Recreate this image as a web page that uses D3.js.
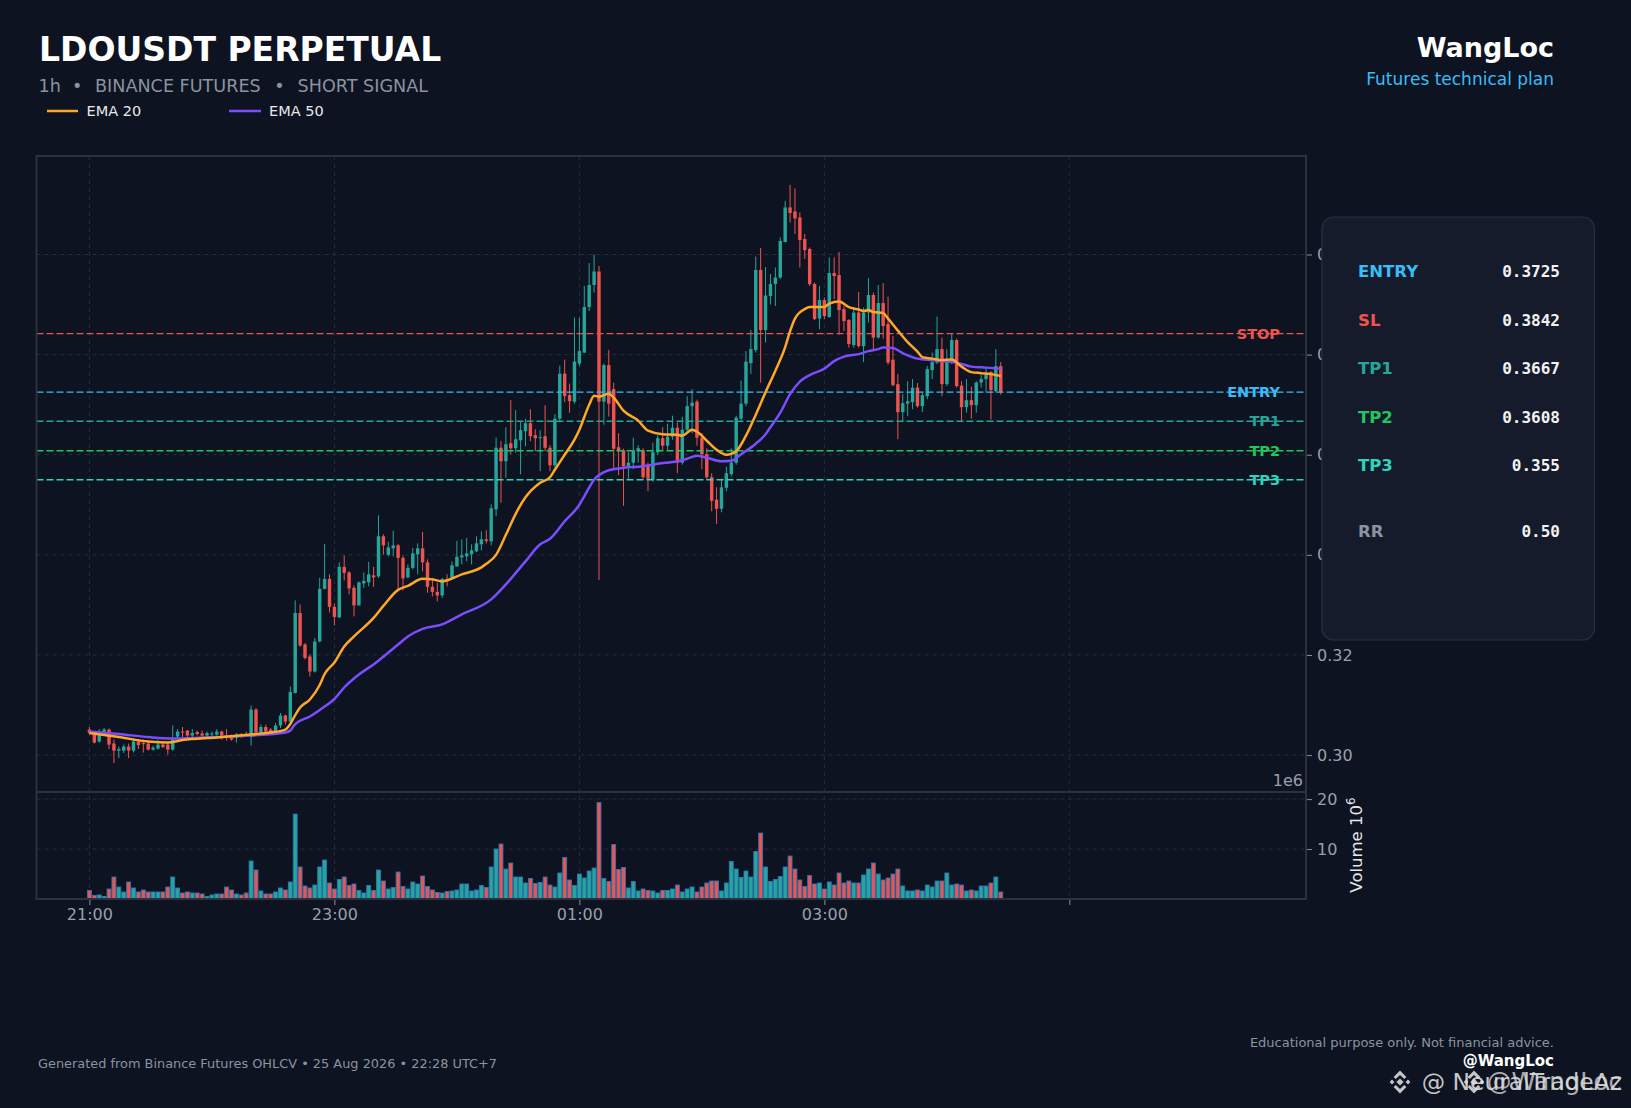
<!DOCTYPE html>
<html>
<head>
<meta charset="utf-8">
<title>LDOUSDT PERPETUAL</title>
<script src="https://cdn.jsdelivr.net/npm/d3@7"></script>
<style>
	html, body { margin: 0; padding: 0; background: #0d1321; }
	svg { display: block; }
</style>
</head>
<body>
<svg id="chart"></svg>
<script>
// candles, 1h
var opens = [
	0.3051,0.3041,0.3027,0.3047,0.3051,0.3023,0.3009,0.3009,0.3017,0.3009,
	0.3027,0.3024,0.3023,0.3011,0.3013,0.3021,0.3021,0.3011,0.3037,0.3047,
	0.3049,0.3039,0.3046,0.3043,0.3039,0.3041,0.3041,0.3047,0.3039,0.3037,
	0.3034,0.3042,0.3041,0.3036,0.3091,0.3045,0.3056,0.3051,0.3047,0.3059,
	0.3079,0.3067,0.3124,0.3284,0.3221,0.3197,0.3167,0.3227,0.3332,0.3352,
	0.3296,0.3275,0.3376,0.3365,0.3334,0.3299,0.3343,0.3345,0.3359,0.3357,
	0.3437,0.3400,0.3413,0.3419,0.3394,0.3355,0.3374,0.3401,0.3413,0.3385,
	0.3336,0.3326,0.3319,0.3352,0.3352,0.3377,0.3395,0.3397,0.3401,0.3407,
	0.3421,0.3431,0.3427,0.3491,0.3614,0.3587,0.3623,0.3613,0.3629,0.3647,
	0.3663,0.3639,0.3633,0.3637,0.3614,0.3579,0.3672,0.3762,0.3719,0.3706,
	0.3782,0.3804,0.3895,0.3939,0.3966,0.3706,0.3779,0.3731,0.3615,0.3609,
	0.3576,0.3584,0.3609,0.3609,0.3580,0.3550,0.3605,0.3633,0.3618,0.3636,
	0.3654,0.3584,0.3650,0.3697,0.3706,0.3634,0.3601,0.3555,0.3510,0.3492,
	0.3534,0.3561,0.3584,0.3672,0.3702,0.3783,0.3809,0.3969,0.3849,0.3917,
	0.3941,0.3954,0.4025,0.4094,0.4086,0.4074,0.4031,0.4011,0.3941,0.3872,
	0.3909,0.3875,0.3963,0.3959,0.3891,0.3869,0.3819,0.3884,0.3817,0.3884,
	0.3919,0.3834,0.3903,0.3861,0.3790,0.3741,0.3685,0.3702,0.3705,0.3734,
	0.3697,0.3717,0.3769,0.3784,0.3811,0.3741,0.3785,0.3829,0.3738,0.3695,
	0.3709,0.3699,0.3744,0.3751,0.3765,0.3727,0.3777
];
var highs = [
	0.3056,0.3044,0.3052,0.3054,0.3053,0.3031,0.3017,0.3021,0.3023,0.3034,
	0.3032,0.3031,0.3025,0.3019,0.3031,0.3024,0.3024,0.3059,0.3052,0.3056,
	0.3050,0.3052,0.3049,0.3049,0.3047,0.3047,0.3052,0.3049,0.3052,0.3041,
	0.3044,0.3044,0.3047,0.3099,0.3094,0.3061,0.3061,0.3054,0.3064,0.3084,
	0.3081,0.3137,0.3309,0.3301,0.3224,0.3201,0.3234,0.3354,0.3422,0.3361,
	0.3303,0.3385,0.3399,0.3367,0.3339,0.3347,0.3365,0.3386,0.3376,0.3479,
	0.3441,0.3426,0.3448,0.3422,0.3399,0.3381,0.3414,0.3423,0.3446,0.3391,
	0.3354,0.3344,0.3354,0.3361,0.3387,0.3428,0.3431,0.3434,0.3421,0.3437,
	0.3447,0.3449,0.3501,0.3634,0.3627,0.3655,0.3709,0.3689,0.3665,0.3672,
	0.3691,0.3651,0.3649,0.3699,0.3619,0.3681,0.3778,0.3790,0.3742,0.3874,
	0.3874,0.3937,0.3983,0.4000,0.3977,0.3782,0.3809,0.3744,0.3643,0.3612,
	0.3605,0.3634,0.3619,0.3613,0.3584,0.3624,0.3639,0.3655,0.3662,0.3678,
	0.3664,0.3676,0.3717,0.3731,0.3710,0.3643,0.3613,0.3563,0.3535,0.3552,
	0.3576,0.3613,0.3678,0.3748,0.3807,0.3849,0.3996,0.4013,0.3975,0.3961,
	0.3974,0.4034,0.4107,0.4139,0.4132,0.4084,0.4041,0.4014,0.3944,0.3937,
	0.3914,0.3994,0.3994,0.4005,0.3897,0.3871,0.3894,0.3925,0.3894,0.3953,
	0.3924,0.3939,0.3943,0.3916,0.3837,0.3761,0.3721,0.3747,0.3751,0.3743,
	0.3724,0.3777,0.3804,0.3876,0.3834,0.3811,0.3843,0.3832,0.3747,0.3751,
	0.3736,0.3747,0.3761,0.3774,0.3767,0.3811,0.3785
];
var lows = [
	0.3041,0.3023,0.3025,0.3044,0.3012,0.2984,0.2994,0.3004,0.2994,0.3005,
	0.3012,0.3005,0.3009,0.3009,0.3011,0.3014,0.3001,0.3009,0.3031,0.3036,
	0.3036,0.3036,0.3039,0.3036,0.3036,0.3037,0.3039,0.3031,0.3029,0.3029,
	0.3025,0.3034,0.3037,0.3019,0.3044,0.3044,0.3044,0.3041,0.3044,0.3054,
	0.3061,0.3063,0.3123,0.3216,0.3191,0.3157,0.3165,0.3225,0.3331,0.3285,
	0.3259,0.3274,0.3349,0.3321,0.3277,0.3299,0.3334,0.3337,0.3336,0.3354,
	0.3401,0.3397,0.3397,0.3332,0.3329,0.3353,0.3371,0.3361,0.3367,0.3324,
	0.3317,0.3307,0.3314,0.3337,0.3351,0.3376,0.3381,0.3387,0.3381,0.3405,
	0.3409,0.3423,0.3419,0.3477,0.3504,0.3554,0.3601,0.3604,0.3561,0.3617,
	0.3627,0.3607,0.3567,0.3607,0.3567,0.3574,0.3665,0.3705,0.3684,0.3702,
	0.3777,0.3803,0.3887,0.3924,0.3350,0.3660,0.3676,0.3571,0.3559,0.3498,
	0.3552,0.3571,0.3584,0.3550,0.3527,0.3546,0.3599,0.3609,0.3609,0.3630,
	0.3563,0.3580,0.3643,0.3643,0.3618,0.3571,0.3550,0.3487,0.3462,0.3485,
	0.3527,0.3557,0.3580,0.3668,0.3697,0.3761,0.3804,0.3744,0.3824,0.3900,
	0.3897,0.3951,0.4024,0.4064,0.4041,0.3974,0.3991,0.3937,0.3869,0.3851,
	0.3871,0.3874,0.3911,0.3840,0.3847,0.3814,0.3814,0.3814,0.3785,0.3864,
	0.3811,0.3832,0.3832,0.3780,0.3737,0.3631,0.3667,0.3677,0.3691,0.3694,
	0.3685,0.3711,0.3751,0.3781,0.3717,0.3737,0.3781,0.3734,0.3665,0.3684,
	0.3672,0.3684,0.3734,0.3724,0.3670,0.3724,0.3720
];
var closes = [
	0.3044,0.3025,0.3041,0.3051,0.3021,0.3009,0.3012,0.3017,0.3009,0.3027,
	0.3020,0.3023,0.3011,0.3015,0.3021,0.3016,0.3011,0.3031,0.3047,0.3045,
	0.3039,0.3044,0.3042,0.3039,0.3044,0.3043,0.3047,0.3039,0.3037,0.3031,
	0.3041,0.3036,0.3039,0.3091,0.3045,0.3056,0.3047,0.3044,0.3059,0.3079,
	0.3067,0.3126,0.3284,0.3219,0.3194,0.3167,0.3227,0.3332,0.3352,0.3296,
	0.3276,0.3376,0.3364,0.3333,0.3299,0.3345,0.3348,0.3361,0.3355,0.3437,
	0.3419,0.3415,0.3419,0.3394,0.3353,0.3374,0.3403,0.3413,0.3385,0.3336,
	0.3326,0.3319,0.3352,0.3349,0.3379,0.3396,0.3399,0.3403,0.3409,0.3423,
	0.3431,0.3428,0.3493,0.3614,0.3587,0.3621,0.3613,0.3631,0.3649,0.3663,
	0.3637,0.3633,0.3635,0.3614,0.3579,0.3672,0.3762,0.3717,0.3707,0.3786,
	0.3807,0.3895,0.3939,0.3966,0.3706,0.3779,0.3702,0.3612,0.3607,0.3577,
	0.3584,0.3609,0.3613,0.3555,0.3552,0.3605,0.3633,0.3618,0.3636,0.3654,
	0.3584,0.3650,0.3697,0.3704,0.3634,0.3601,0.3555,0.3508,0.3492,0.3535,
	0.3563,0.3584,0.3674,0.3702,0.3786,0.3811,0.3969,0.3849,0.3918,0.3941,
	0.3954,0.4027,0.4094,0.4083,0.4072,0.4029,0.4009,0.3941,0.3871,0.3909,
	0.3877,0.3963,0.3957,0.3889,0.3867,0.3821,0.3884,0.3817,0.3884,0.3919,
	0.3834,0.3903,0.3857,0.3784,0.3739,0.3685,0.3703,0.3707,0.3734,0.3697,
	0.3719,0.3771,0.3785,0.3811,0.3741,0.3785,0.3829,0.3737,0.3695,0.3709,
	0.3699,0.3744,0.3751,0.3761,0.3729,0.3777,0.3725
];
// volume in millions
var volumes = [
	1.7,0.7,0.8,0.5,2.0,4.4,2.4,1.4,3.4,2.2,
	1.4,1.8,1.4,1.4,1.4,1.4,2.4,4.4,2.2,1.2,
	1.4,1.2,1.2,1.0,0.5,0.8,1.0,1.0,2.4,1.8,
	1.0,0.8,1.2,7.6,5.8,1.6,1.0,1.0,1.4,2.2,
	1.8,3.4,17.0,6.4,2.6,2.2,2.8,6.4,7.8,3.2,
	2.0,3.9,4.4,2.7,3.0,1.7,1.2,2.7,1.7,5.8,
	3.6,2.0,2.3,5.4,2.5,2.0,3.4,3.0,4.6,2.5,
	1.8,1.3,1.2,1.5,1.6,1.8,3.0,3.0,1.6,1.8,
	2.7,2.3,6.4,10.0,11.0,6.0,7.2,4.4,4.4,3.2,
	4.1,3.1,3.3,4.4,2.8,2.4,5.2,8.3,3.8,2.7,
	5.0,4.2,5.6,6.2,19.3,4.1,3.5,10.9,5.9,6.3,
	2.2,3.5,1.6,2.0,1.7,1.6,1.2,1.7,1.7,2.0,
	2.8,1.4,2.0,2.4,1.4,2.4,3.2,3.6,3.6,1.6,
	3.2,7.5,6.0,4.3,5.6,4.4,9.5,13.2,6.4,3.5,
	3.9,4.5,6.4,8.6,6.0,3.8,2.5,4.7,3.0,3.2,
	2.0,3.4,2.8,5.2,3.2,3.6,3.2,3.2,4.8,6.0,
	7.2,5.0,3.8,4.2,5.0,6.0,2.6,1.6,1.6,1.8,
	1.6,2.8,2.4,3.6,3.6,5.2,2.8,3.0,2.8,1.6,
	1.8,1.6,2.6,2.6,3.2,4.4,1.4
];

// EMA lines, read at these candle indexes
var ema20Index = [0,6,12,16,19,26,33,37,40,41,42,43,45,47,48,50,52,54,58,60,63,65,68,70,72,76,80,81,83,85,87,89,92,94,95,97,99,100,102,103,104,106,107,109,112,114,117,120,121,123,124,126,128,130,132,134,136,138,140,142,143,144,146,147,150,151,153,155,157,158,159,160,162,163,165,167,169,170,172,174,176,178,180,182,184,186];
var ema20 = [0.3044,0.3036,0.3027,0.3025,0.3030,0.3035,0.3041,0.3045,0.3051,0.3062,0.3080,0.3095,0.3111,0.3140,0.3162,0.3185,0.3217,0.3237,0.3274,0.3298,0.3330,0.3338,0.3352,0.3351,0.3347,0.3361,0.3375,0.3382,0.3400,0.3440,0.3482,0.3515,0.3544,0.3555,0.3570,0.3600,0.3630,0.3650,0.3700,0.3718,0.3716,0.3722,0.3714,0.3688,0.3668,0.3648,0.3641,0.3640,0.3638,0.3650,0.3646,0.3628,0.3610,0.3600,0.3607,0.3638,0.3680,0.3725,0.3768,0.3815,0.3847,0.3872,0.3891,0.3895,0.3895,0.3902,0.3906,0.3895,0.3890,0.3887,0.3889,0.3885,0.3883,0.3872,0.3848,0.3825,0.3806,0.3795,0.3792,0.3789,0.3790,0.3776,0.3765,0.3763,0.3761,0.3757];
var ema50Index = [0,6,12,17,26,33,40,41,42,45,48,50,52,55,58,63,65,68,72,76,82,85,89,92,94,97,100,101,103,106,109,113,116,120,122,124,126,129,131,133,136,138,139,141,143,145,147,150,152,154,157,159,161,162,164,166,169,172,174,177,180,183,186];
var ema50 = [0.3047,0.3042,0.3036,0.3033,0.3036,0.3039,0.3045,0.3049,0.3062,0.3077,0.3097,0.3112,0.3135,0.3161,0.3181,0.3221,0.3237,0.3252,0.3261,0.3281,0.3311,0.3341,0.3387,0.3421,0.3432,0.3467,0.3500,0.3517,0.3550,0.3569,0.3574,0.3577,0.3582,0.3587,0.3592,0.3598,0.3594,0.3587,0.3588,0.3601,0.3622,0.3641,0.3655,0.3684,0.3721,0.3746,0.3759,0.3772,0.3787,0.3796,0.3801,0.3807,0.3811,0.3814,0.3813,0.3803,0.3792,0.3789,0.3787,0.3784,0.3776,0.3774,0.3772];

// axes
var tickIndex = [0, 50, 100, 150, 200];
var tickLabels = ['21:00', '23:00', '01:00', '03:00', ''];
var priceTicks = [0.30, 0.32, 0.34, 0.36, 0.38, 0.40];
var volumeTicks = [10, 20];

// trade plan
var levelNames = ['STOP', 'ENTRY', 'TP1', 'TP2', 'TP3'];
var levelValues = [0.3842, 0.3725, 0.3667, 0.3608, 0.355];
var planLabels = ['ENTRY', 'SL', 'TP1', 'TP2', 'TP3', 'RR'];
var planValues = ['0.3725', '0.3842', '0.3667', '0.3608', '0.355', '0.50'];

(function() {
	var width = 1631,
		height = 1108,
		left = 36.5,
		right = 1306,
		priceTop = 156,
		priceBottom = 792,
		volBottom = 899,
		font = "'DejaVu Sans', sans-serif",
		mono = "'DejaVu Sans Mono', monospace",
		upColor = '#26a69a',
		downColor = '#ef5350',
		gridColor = '#262d3b',
		tickColor = '#9aa0aa';

	var levelColors = ['#ef5350', '#38bdf8', '#26a69a', '#22c55e', '#2dd4bf'];
	var planColors = ['#38bdf8', '#ef5350', '#26a69a', '#22c55e', '#2dd4bf', '#8b93a1'];

	var candles = opens.map(function(o, i) {
		return {i: i, o: o, h: highs[i], l: lows[i], c: closes[i], v: volumes[i], up: closes[i] >= o};
	});

	var svg = d3.select('#chart')
		.attr('width', width)
		.attr('height', height)
		.attr('viewBox', '0 0 ' + width + ' ' + height);

	svg.append('rect')
		.attr('width', width)
		.attr('height', height)
		.attr('fill', '#0d1321');

	var x = d3.scaleLinear()
		.domain([-10.8, 248.3])
		.range([left, right]);
	var step = x(1) - x(0);

	var lo = d3.min(lows),
		hi = d3.max(highs),
		pad = (hi - lo)*0.05;

	var y = d3.scaleLinear()
		.domain([lo - pad, hi + pad])
		.range([priceBottom, priceTop]);

	var yv = d3.scaleLinear()
		.domain([0, d3.max(volumes)*1.11])
		.range([volBottom, priceBottom]);

	// grid
	var grid = svg.append('g')
		.attr('stroke', gridColor)
		.attr('stroke-width', 1)
		.attr('stroke-dasharray', '4,4');

	grid.selectAll('.hgrid')
		.data(priceTicks)
		.enter()
		.append('line')
		.attr('x1', left)
		.attr('x2', right)
		.attr('y1', function(d) { return y(d); })
		.attr('y2', function(d) { return y(d); });

	grid.selectAll('.vgrid-v')
		.data(volumeTicks)
		.enter()
		.append('line')
		.attr('x1', left)
		.attr('x2', right)
		.attr('y1', function(d) { return yv(d); })
		.attr('y2', function(d) { return yv(d); });

	grid.selectAll('.xgrid')
		.data(tickIndex)
		.enter()
		.append('line')
		.attr('x1', function(d) { return x(d); })
		.attr('x2', function(d) { return x(d); })
		.attr('y1', priceTop)
		.attr('y2', volBottom);

	// volume bars
	var barWidth = step*0.8;
	svg.append('g')
		.selectAll('rect')
		.data(candles)
		.enter()
		.append('rect')
		.attr('x', function(d) { return x(d.i) - barWidth/2; })
		.attr('y', function(d) { return yv(d.v); })
		.attr('width', barWidth)
		.attr('height', function(d) { return volBottom - yv(d.v); })
		.attr('fill', function(d) { return d.up ? upColor : downColor; })
		.attr('stroke', '#2b78b8')
		.attr('stroke-width', 0.9);

	// candles
	var bodyWidth = step*0.7;
	var candle = svg.append('g')
		.selectAll('g')
		.data(candles)
		.enter()
		.append('g');

	candle.append('line')
		.attr('x1', function(d) { return x(d.i); })
		.attr('x2', function(d) { return x(d.i); })
		.attr('y1', function(d) { return y(d.h); })
		.attr('y2', function(d) { return y(d.l); })
		.attr('stroke', function(d) { return d.up ? upColor : downColor; })
		.attr('stroke-width', 1);

	candle.append('rect')
		.attr('x', function(d) { return x(d.i) - bodyWidth/2; })
		.attr('y', function(d) { return y(Math.max(d.o, d.c)); })
		.attr('width', bodyWidth)
		.attr('height', function(d) { return Math.max(1, Math.abs(y(d.o) - y(d.c))); })
		.attr('fill', function(d) { return d.up ? upColor : downColor; });

	// plan levels
	var levels = svg.append('g')
		.selectAll('g')
		.data(levelValues)
		.enter()
		.append('g');

	levels.append('line')
		.attr('x1', left)
		.attr('x2', right)
		.attr('y1', function(d) { return y(d); })
		.attr('y2', function(d) { return y(d); })
		.attr('stroke', function(d, i) { return levelColors[i]; })
		.attr('stroke-width', 1.4)
		.attr('stroke-dasharray', '7,3');

	levels.append('text')
		.text(function(d, i) { return levelNames[i]; })
		.attr('x', 1280)
		.attr('y', function(d) { return y(d); })
		.attr('dy', '0.36em')
		.attr('text-anchor', 'end')
		.attr('font-family', font)
		.attr('font-weight', 'bold')
		.attr('font-size', 14.5)
		.attr('fill', function(d, i) { return levelColors[i]; });

	// EMA lines
	var line = d3.line()
		.x(function(d) { return x(d[0]); })
		.y(function(d) { return y(d[1]); })
		.curve(d3.curveMonotoneX);

	svg.append('path')
		.attr('d', line(d3.zip(ema50Index, ema50)))
		.attr('fill', 'none')
		.attr('stroke', '#7c4dff')
		.attr('stroke-width', 2.5);

	svg.append('path')
		.attr('d', line(d3.zip(ema20Index, ema20)))
		.attr('fill', 'none')
		.attr('stroke', '#ffa726')
		.attr('stroke-width', 2.5);

	// axes
	function styleAxis(g)
	{
		g.select('.domain').remove();
		g.attr('font-family', font).attr('font-size', 16);
		g.selectAll('.tick line').attr('stroke', '#8a919e');
		g.selectAll('.tick text').attr('fill', tickColor);
	}

	svg.append('g')
		.attr('transform', 'translate(' + right + ',0)')
		.call(d3.axisRight(y).tickValues(priceTicks).tickFormat(d3.format('.2f')).tickSize(6).tickPadding(5))
		.call(styleAxis);

	svg.append('g')
		.attr('transform', 'translate(' + right + ',0)')
		.call(d3.axisRight(yv).tickValues(volumeTicks).tickFormat(d3.format('d')).tickSize(6).tickPadding(5))
		.call(styleAxis);

	svg.append('g')
		.attr('transform', 'translate(0,' + volBottom + ')')
		.call(d3.axisBottom(x).tickValues(tickIndex).tickFormat(function(d, i) { return tickLabels[i]; }).tickSize(6).tickPadding(4))
		.call(styleAxis);

	svg.append('text')
		.text('1e6')
		.attr('x', 1303)
		.attr('y', 786)
		.attr('text-anchor', 'end')
		.attr('font-family', font)
		.attr('font-size', 16)
		.attr('fill', tickColor);

	var volLabel = svg.append('text')
		.attr('transform', 'translate(1362,845) rotate(-90)')
		.attr('text-anchor', 'middle')
		.attr('font-family', font)
		.attr('font-size', 16.5)
		.attr('fill', '#e6e6e6');
	volLabel.append('tspan').text('Volume  10');
	volLabel.append('tspan').text('6').attr('dy', -7).attr('font-size', 12);

	// frame
	svg.append('rect')
		.attr('x', left)
		.attr('y', priceTop)
		.attr('width', right - left)
		.attr('height', volBottom - priceTop)
		.attr('fill', 'none')
		.attr('stroke', '#2b313d')
		.attr('stroke-width', 2);

	svg.append('line')
		.attr('x1', left)
		.attr('x2', right)
		.attr('y1', priceBottom)
		.attr('y2', priceBottom)
		.attr('stroke', '#2b313d')
		.attr('stroke-width', 2);

	// plan panel
	svg.append('rect')
		.attr('x', 1322)
		.attr('y', 217)
		.attr('width', 272.5)
		.attr('height', 423)
		.attr('rx', 12)
		.attr('fill', '#151b2b')
		.attr('stroke', '#283042')
		.attr('stroke-width', 1.2);

	var rowY = function(i) {
		return 277 + i*48.5 + (i === 5 ? 17 : 0);
	};

	var rows = svg.append('g')
		.selectAll('g')
		.data(planLabels)
		.enter()
		.append('g');

	rows.append('text')
		.text(function(d) { return d; })
		.attr('x', 1358)
		.attr('y', function(d, i) { return rowY(i); })
		.attr('font-family', font)
		.attr('font-weight', 'bold')
		.attr('font-size', 16.5)
		.attr('fill', function(d, i) { return planColors[i]; });

	rows.append('text')
		.text(function(d, i) { return planValues[i]; })
		.attr('x', 1560)
		.attr('y', function(d, i) { return rowY(i); })
		.attr('text-anchor', 'end')
		.attr('font-family', mono)
		.attr('font-weight', 'bold')
		.attr('font-size', 16)
		.attr('fill', '#f2f2f2');

	// header
	svg.append('text')
		.text('LDOUSDT PERPETUAL')
		.attr('x', 39)
		.attr('y', 61)
		.attr('font-family', font)
		.attr('font-weight', 'bold')
		.attr('font-size', 33)
		.attr('fill', '#ffffff');

	var sub = svg.append('g')
		.attr('font-family', font)
		.attr('font-size', 17.6)
		.attr('fill', '#8b93a0');
	sub.append('text').text('1h').attr('x', 38.5).attr('y', 92.3);
	sub.append('text').text('•').attr('x', 77.3).attr('y', 92.3).attr('text-anchor', 'middle');
	sub.append('text').text('BINANCE FUTURES').attr('x', 95).attr('y', 92.3);
	sub.append('text').text('•').attr('x', 279.5).attr('y', 92.3).attr('text-anchor', 'middle');
	sub.append('text').text('SHORT SIGNAL').attr('x', 297.5).attr('y', 92.3);

	// legend
	var legend = svg.append('g')
		.attr('font-family', font)
		.attr('font-size', 14.5)
		.attr('fill', '#e8e8e8');
	legend.append('line').attr('x1', 47).attr('x2', 78).attr('y1', 111).attr('y2', 111)
		.attr('stroke', '#ffa726').attr('stroke-width', 2.5);
	legend.append('text').text('EMA 20').attr('x', 86.5).attr('y', 116);
	legend.append('line').attr('x1', 229).attr('x2', 261).attr('y1', 111).attr('y2', 111)
		.attr('stroke', '#7c4dff').attr('stroke-width', 2.5);
	legend.append('text').text('EMA 50').attr('x', 269).attr('y', 116);

	svg.append('text')
		.text('WangLoc')
		.attr('x', 1554)
		.attr('y', 57)
		.attr('text-anchor', 'end')
		.attr('font-family', font)
		.attr('font-weight', 'bold')
		.attr('font-size', 27)
		.attr('fill', '#ffffff');

	svg.append('text')
		.text('Futures technical plan')
		.attr('x', 1554)
		.attr('y', 85)
		.attr('text-anchor', 'end')
		.attr('font-family', font)
		.attr('font-size', 17)
		.attr('fill', '#38bdf8');

	// footer
	svg.append('text')
		.text('Generated from Binance Futures OHLCV • 25 Aug 2026 • 22:28 UTC+7')
		.attr('x', 38)
		.attr('y', 1068)
		.attr('font-family', font)
		.attr('font-size', 12.9)
		.attr('fill', '#8b93a0');

	svg.append('text')
		.text('Educational purpose only. Not financial advice.')
		.attr('x', 1554)
		.attr('y', 1047)
		.attr('text-anchor', 'end')
		.attr('font-family', font)
		.attr('font-size', 13)
		.attr('fill', '#8b93a0');

	svg.append('text')
		.text('@WangLoc')
		.attr('x', 1554)
		.attr('y', 1066)
		.attr('text-anchor', 'end')
		.attr('font-family', font)
		.attr('font-weight', 'bold')
		.attr('font-size', 15)
		.attr('fill', '#ffffff');

	// watermark
	function logo(cx, cy)
	{
		var g = svg.append('g')
			.attr('transform', 'translate(' + cx + ',' + cy + ')')
			.attr('fill', '#d9d9d9')
			.attr('opacity', 0.9);
		g.append('path').attr('d', 'M0,-3.6L3.6,0L0,3.6L-3.6,0Z');
		g.append('path').attr('d', 'M-8,-2.4L-5.6,0L-8,2.4L-10.4,0Z');
		g.append('path').attr('d', 'M8,-2.4L10.4,0L8,2.4L5.6,0Z');
		g.append('path').attr('d', 'M0,-11.5L6.4,-5.1L4.2,-2.9L0,-7.1L-4.2,-2.9L-6.4,-5.1Z');
		g.append('path').attr('d', 'M0,11.5L6.4,5.1L4.2,2.9L0,7.1L-4.2,2.9L-6.4,5.1Z');
	}

	logo(1400, 1082);
	logo(1474, 1082);

	svg.append('text')
		.text('@ NeuralTradeAz')
		.attr('x', 1622)
		.attr('y', 1090)
		.attr('text-anchor', 'end')
		.attr('font-family', font)
		.attr('font-size', 23.4)
		.attr('fill', '#dcdcdc')
		.attr('opacity', 0.9);

	svg.append('text')
		.text('@WangLoc')
		.attr('x', 1622)
		.attr('y', 1090)
		.attr('text-anchor', 'end')
		.attr('font-family', font)
		.attr('font-size', 24.5)
		.attr('fill', '#dcdcdc')
		.attr('opacity', 0.75);
})();
</script>
</body>
</html>
